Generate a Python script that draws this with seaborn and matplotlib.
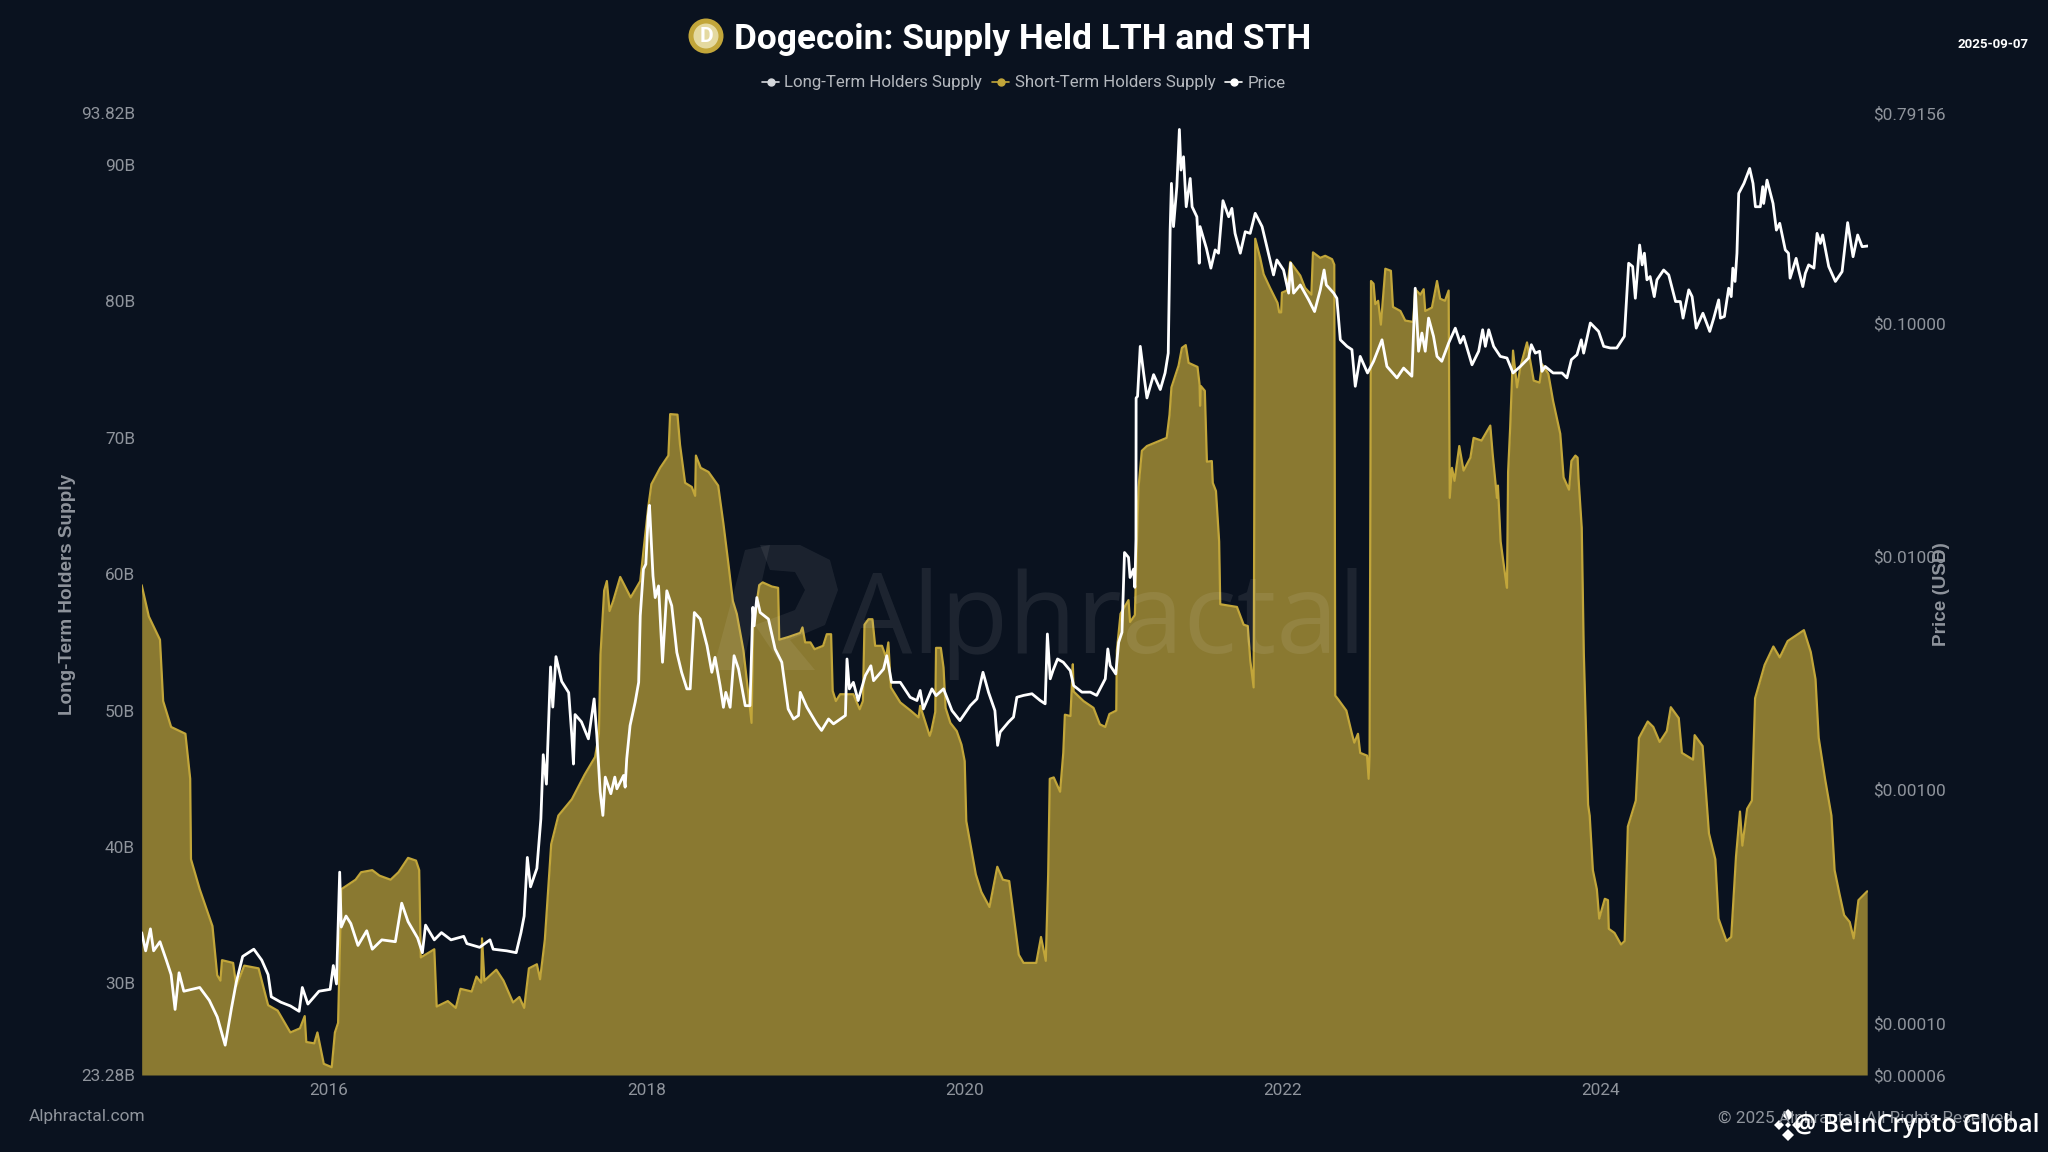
import numpy as np
import pandas as pd
import matplotlib
matplotlib.use('Agg')
import matplotlib.pyplot as plt
from matplotlib.lines import Line2D
from matplotlib.patches import Circle, Polygon
from matplotlib.transforms import IdentityTransform
import seaborn as sns

# Short-term holders supply (billions)
sth_year = [2014.825, 2014.87, 2014.94, 2014.96, 2015.01, 2015.10, 2015.13, 2015.135, 2015.19, 2015.27,
            2015.30, 2015.32, 2015.33, 2015.40, 2015.42, 2015.47, 2015.56, 2015.62, 2015.68, 2015.76,
            2015.82, 2015.85, 2015.86, 2015.91, 2015.93, 2015.97, 2016.02, 2016.04, 2016.06, 2016.08,
            2016.17, 2016.205, 2016.275, 2016.32, 2016.39, 2016.44, 2016.50, 2016.55, 2016.57, 2016.58,
            2016.665, 2016.68, 2016.75, 2016.80, 2016.83, 2016.90, 2016.93, 2016.96, 2016.965, 2016.98,
            2017.055, 2017.10, 2017.16, 2017.20, 2017.23, 2017.26, 2017.31, 2017.33, 2017.36, 2017.40,
            2017.445, 2017.53, 2017.61, 2017.676, 2017.70, 2017.71, 2017.733, 2017.75, 2017.767, 2017.79,
            2017.834, 2017.865, 2017.90, 2017.93, 2017.96, 2017.98, 2018.01, 2018.03, 2018.085, 2018.137,
            2018.148, 2018.194, 2018.21, 2018.242, 2018.284, 2018.305, 2018.31, 2018.34, 2018.389, 2018.45,
            2018.483, 2018.515, 2018.542, 2018.567, 2018.609, 2018.64, 2018.66, 2018.67, 2018.708, 2018.73,
            2018.787, 2018.827, 2018.834, 2018.892, 2018.966, 2018.98, 2018.997, 2019.03, 2019.056, 2019.11,
            2019.133, 2019.16, 2019.17, 2019.19, 2019.217, 2019.30, 2019.34, 2019.36, 2019.37, 2019.395,
            2019.42, 2019.437, 2019.48, 2019.506, 2019.52, 2019.536, 2019.595, 2019.66, 2019.71, 2019.72,
            2019.75, 2019.78, 2019.79, 2019.815, 2019.82, 2019.85, 2019.867, 2019.88, 2019.91, 2019.95,
            2019.98, 2020.0, 2020.01, 2020.07, 2020.105, 2020.156, 2020.205, 2020.24, 2020.28, 2020.31,
            2020.34, 2020.37, 2020.45, 2020.48, 2020.51, 2020.525, 2020.535, 2020.56, 2020.60, 2020.62,
            2020.63, 2020.665, 2020.68, 2020.685, 2020.747, 2020.81, 2020.85, 2020.884, 2020.91, 2020.953,
            2020.957, 2020.98, 2021.03, 2021.04, 2021.07, 2021.083, 2021.093, 2021.114, 2021.146, 2021.27,
            2021.288, 2021.30, 2021.345, 2021.366, 2021.39, 2021.408, 2021.464, 2021.477, 2021.48, 2021.485,
            2021.51, 2021.523, 2021.554, 2021.56, 2021.58, 2021.60, 2021.603, 2021.607, 2021.712, 2021.754,
            2021.78, 2021.796, 2021.817, 2021.827, 2021.858, 2021.88, 2021.92, 2021.967, 2021.978, 2021.99,
            2021.995, 2022.026, 2022.047, 2022.11, 2022.14, 2022.18, 2022.19, 2022.236, 2022.267, 2022.31,
            2022.324, 2022.33, 2022.35, 2022.40, 2022.435, 2022.45, 2022.473, 2022.487, 2022.53, 2022.54,
            2022.546, 2022.555, 2022.571, 2022.582, 2022.60, 2022.617, 2022.645, 2022.68, 2022.693, 2022.74,
            2022.77, 2022.82, 2022.833, 2022.865, 2022.886, 2022.896, 2022.938, 2022.97, 2022.99, 2023.02,
            2023.043, 2023.05, 2023.064, 2023.08, 2023.11, 2023.137, 2023.18, 2023.2, 2023.25, 2023.305,
            2023.32, 2023.347, 2023.353, 2023.37, 2023.40, 2023.41, 2023.417, 2023.43, 2023.448, 2023.473,
            2023.494, 2023.536, 2023.578, 2023.615, 2023.63, 2023.67, 2023.70, 2023.745, 2023.766, 2023.80,
            2023.815, 2023.84, 2023.854, 2023.86, 2023.88, 2023.885, 2023.893, 2023.92, 2023.93, 2023.95,
            2023.975, 2023.99, 2024.025, 2024.045, 2024.05, 2024.086, 2024.127, 2024.15, 2024.17, 2024.22,
            2024.24, 2024.295, 2024.33, 2024.37, 2024.415, 2024.44, 2024.49, 2024.51, 2024.58, 2024.59,
            2024.64, 2024.68, 2024.72, 2024.74, 2024.79, 2024.82, 2024.85, 2024.875, 2024.89, 2024.92,
            2024.95, 2024.97, 2025.03, 2025.085, 2025.125, 2025.175, 2025.277, 2025.32, 2025.35, 2025.37,
            2025.41, 2025.45, 2025.47, 2025.50, 2025.53, 2025.565, 2025.59, 2025.62, 2025.675]
sth_supply_b = [59.2, 56.9, 55.2, 50.7, 48.8, 48.3, 45.0, 39.1, 36.9, 34.2,
                30.6, 30.2, 31.7, 31.5, 29.8, 31.3, 31.1, 28.4, 28.0, 26.4,
                26.7, 27.6, 25.7, 25.6, 26.4, 24.1, 23.85, 26.4, 27.1, 36.9,
                37.6, 38.15, 38.3, 37.9, 37.6, 38.15, 39.2, 39.0, 38.3, 31.9,
                32.5, 28.3, 28.7, 28.2, 29.6, 29.4, 30.5, 30.05, 33.3, 30.2,
                31.0, 30.2, 28.6, 29.0, 28.2, 31.1, 31.4, 30.3, 33.2, 40.2,
                42.3, 43.5, 45.3, 46.6, 48.3, 54.1, 58.8, 59.5, 57.3, 58.05,
                59.8, 59.1, 58.3, 58.9, 59.5, 61.7, 64.9, 66.6, 67.8, 68.7,
                71.74, 71.7, 69.5, 66.7, 66.4, 65.75, 68.7, 67.8, 67.5, 66.5,
                63.7, 60.7, 58.05, 57.1, 54.4, 51.2, 49.1, 56.1, 59.2, 59.4,
                59.1, 59.0, 55.2, 55.4, 55.7, 56.1, 55.0, 55.0, 54.5, 54.75,
                55.6, 55.6, 51.45, 50.7, 51.2, 51.2, 50.1, 50.7, 56.3, 56.7,
                56.7, 54.75, 54.75, 53.9, 55.0, 51.7, 50.6, 50.0, 49.5, 50.35,
                49.25, 48.15, 48.5, 49.9, 54.6, 54.6, 53.15, 50.2, 49.1, 48.5,
                47.5, 46.3, 41.9, 38.0, 36.7, 35.6, 38.55, 37.6, 37.5, 34.8,
                32.1, 31.5, 31.5, 33.4, 31.65, 38.0, 45.0, 45.1, 44.05, 46.9,
                49.7, 49.6, 53.4, 51.4, 50.7, 50.2, 49.0, 48.8, 49.75, 50.0,
                54.4, 57.1, 58.1, 56.5, 57.0, 62.4, 66.35, 69.05, 69.4, 70.0,
                71.7, 73.7, 75.3, 76.6, 76.8, 75.5, 75.2, 73.9, 72.35, 73.8,
                73.45, 68.25, 68.3, 66.7, 66.1, 62.4, 60.5, 57.8, 57.6, 56.3,
                56.2, 53.65, 51.7, 84.6, 83.2, 82.0, 81.0, 79.9, 79.2, 79.2,
                80.65, 80.8, 82.9, 81.9, 81.0, 80.5, 83.6, 83.2, 83.35, 83.1,
                82.7, 51.1, 50.8, 50.0, 48.3, 47.65, 48.3, 46.9, 46.7, 45.0,
                46.8, 81.5, 81.3, 79.8, 80.05, 78.3, 82.4, 82.25, 79.6, 79.3,
                78.6, 78.5, 80.9, 80.5, 80.9, 79.3, 79.55, 81.5, 80.2, 80.05,
                80.8, 65.6, 67.8, 66.85, 69.4, 67.6, 68.55, 70.0, 69.8, 70.9,
                68.8, 65.6, 66.5, 62.4, 59.8, 59.0, 67.5, 70.76, 76.4, 73.7,
                75.2, 77.0, 74.2, 74.05, 75.4, 74.7, 72.7, 70.3, 67.1, 66.2,
                68.3, 68.7, 68.55, 67.0, 63.4, 59.8, 54.2, 43.1, 42.3, 38.3,
                36.9, 34.75, 36.2, 36.1, 34.0, 33.7, 32.85, 33.1, 41.5, 43.4,
                48.0, 49.2, 48.8, 47.7, 48.5, 50.25, 49.45, 46.9, 46.4, 48.2,
                47.4, 41.0, 39.1, 34.75, 33.1, 33.4, 39.3, 42.6, 40.1, 42.8,
                43.4, 50.9, 53.35, 54.7, 53.9, 55.1, 55.9, 54.3, 52.3, 48.0,
                45.0, 42.3, 38.3, 36.6, 35.0, 34.5, 33.3, 36.1, 36.75]

# Price, kept as log10(USD) because the axis is logarithmic
price_year = [2014.825, 2014.85, 2014.88, 2014.90, 2014.94, 2014.98, 2015.01, 2015.035, 2015.06, 2015.09,
              2015.19, 2015.25, 2015.30, 2015.35, 2015.39, 2015.42, 2015.46, 2015.53, 2015.58, 2015.62,
              2015.64, 2015.70, 2015.76, 2015.815, 2015.835, 2015.87, 2015.94, 2016.01, 2016.03, 2016.05,
              2016.07, 2016.08, 2016.11, 2016.14, 2016.185, 2016.24, 2016.275, 2016.335, 2016.42, 2016.46,
              2016.50, 2016.56, 2016.59, 2016.61, 2016.665, 2016.71, 2016.77, 2016.85, 2016.87, 2016.95,
              2017.015, 2017.035, 2017.12, 2017.18, 2017.21, 2017.23, 2017.25, 2017.27, 2017.31, 2017.335,
              2017.35, 2017.37, 2017.396, 2017.41, 2017.43, 2017.466, 2017.51, 2017.53, 2017.54, 2017.55,
              2017.59, 2017.634, 2017.67, 2017.687, 2017.708, 2017.725, 2017.74, 2017.775, 2017.80, 2017.813,
              2017.855, 2017.865, 2017.875, 2017.896, 2017.928, 2017.95, 2017.96, 2017.98, 2017.995, 2018.01,
              2018.018, 2018.04, 2018.054, 2018.075, 2018.10, 2018.127, 2018.158, 2018.19, 2018.22, 2018.253,
              2018.274, 2018.30, 2018.337, 2018.38, 2018.41, 2018.43, 2018.462, 2018.483, 2018.498, 2018.525,
              2018.55, 2018.578, 2018.62, 2018.65, 2018.668, 2018.676, 2018.693, 2018.714, 2018.766, 2018.808,
              2018.85, 2018.89, 2018.924, 2018.955, 2018.966, 2019.008, 2019.07, 2019.10, 2019.144, 2019.175,
              2019.25, 2019.26, 2019.275, 2019.30, 2019.33, 2019.375, 2019.41, 2019.427, 2019.49, 2019.51,
              2019.54, 2019.595, 2019.657, 2019.70, 2019.72, 2019.74, 2019.794, 2019.82, 2019.867, 2019.92,
              2019.97, 2020.035, 2020.077, 2020.115, 2020.15, 2020.19, 2020.207, 2020.223, 2020.276, 2020.307,
              2020.328, 2020.37, 2020.423, 2020.475, 2020.506, 2020.52, 2020.538, 2020.555, 2020.584, 2020.62,
              2020.664, 2020.685, 2020.737, 2020.79, 2020.83, 2020.884, 2020.90, 2020.915, 2020.95, 2020.968,
              2020.989, 2021.005, 2021.03, 2021.04, 2021.062, 2021.07, 2021.077, 2021.078, 2021.087, 2021.104,
              2021.125, 2021.146, 2021.188, 2021.23, 2021.26, 2021.28, 2021.292, 2021.30, 2021.313, 2021.334,
              2021.35, 2021.36, 2021.376, 2021.393, 2021.418, 2021.43, 2021.46, 2021.475, 2021.48, 2021.52,
              2021.548, 2021.575, 2021.596, 2021.624, 2021.66, 2021.68, 2021.70, 2021.733, 2021.764, 2021.795,
              2021.827, 2021.87, 2021.90, 2021.942, 2021.963, 2022.005, 2022.037, 2022.05, 2022.068, 2022.11,
              2022.163, 2022.20, 2022.236, 2022.26, 2022.274, 2022.32, 2022.34, 2022.362, 2022.404, 2022.435,
              2022.456, 2022.487, 2022.533, 2022.571, 2022.624, 2022.655, 2022.718, 2022.76, 2022.812, 2022.833,
              2022.854, 2022.875, 2022.896, 2022.917, 2022.948, 2022.97, 2023.0, 2023.043, 2023.085, 2023.116,
              2023.137, 2023.19, 2023.232, 2023.257, 2023.274, 2023.295, 2023.326, 2023.368, 2023.41, 2023.448,
              2023.494, 2023.546, 2023.563, 2023.588, 2023.615, 2023.63, 2023.65, 2023.70, 2023.756, 2023.787,
              2023.815, 2023.85, 2023.877, 2023.892, 2023.934, 2023.986, 2024.018, 2024.06, 2024.10, 2024.148,
              2024.165, 2024.175, 2024.20, 2024.217, 2024.244, 2024.26, 2024.274, 2024.29, 2024.31, 2024.336,
              2024.353, 2024.395, 2024.427, 2024.47, 2024.50, 2024.517, 2024.553, 2024.574, 2024.60, 2024.642,
              2024.685, 2024.71, 2024.741, 2024.752, 2024.777, 2024.804, 2024.82, 2024.83, 2024.844, 2024.856,
              2024.867, 2024.90, 2024.936, 2024.957, 2024.972, 2025.003, 2025.018, 2025.024, 2025.045, 2025.083,
              2025.104, 2025.125, 2025.16, 2025.18, 2025.19, 2025.228, 2025.244, 2025.27, 2025.286, 2025.307,
              2025.34, 2025.36, 2025.38, 2025.395, 2025.433, 2025.475, 2025.517, 2025.552, 2025.586, 2025.615,
              2025.643, 2025.68]
price_log10 = [-3.612, -3.690, -3.596, -3.690, -3.651, -3.730, -3.792, -3.941, -3.784, -3.863,
               -3.847, -3.902, -3.973, -4.094, -3.934, -3.824, -3.714, -3.683, -3.730, -3.792,
               -3.887, -3.910, -3.926, -3.949, -3.847, -3.918, -3.863, -3.855, -3.753, -3.832,
               -3.353, -3.588, -3.541, -3.573, -3.667, -3.604, -3.683, -3.643, -3.651, -3.486,
               -3.565, -3.635, -3.698, -3.580, -3.643, -3.612, -3.643, -3.628, -3.659, -3.675,
               -3.643, -3.683, -3.690, -3.698, -3.612, -3.541, -3.290, -3.416, -3.337, -3.125,
               -2.850, -2.976, -2.474, -2.646, -2.430, -2.536, -2.584, -2.772, -2.890, -2.678,
               -2.709, -2.782, -2.611, -2.768, -3.010, -3.110, -2.946, -3.017, -2.946, -2.996,
               -2.939, -2.989, -2.867, -2.725, -2.625, -2.540, -2.255, -2.055, -2.034, -1.828,
               -1.782, -2.084, -2.177, -2.127, -2.454, -2.148, -2.212, -2.412, -2.497, -2.568,
               -2.568, -2.241, -2.269, -2.383, -2.497, -2.433, -2.554, -2.647, -2.583, -2.647,
               -2.426, -2.483, -2.640, -2.640, -2.219, -2.298, -2.177, -2.241, -2.269, -2.397,
               -2.454, -2.654, -2.697, -2.682, -2.583, -2.647, -2.718, -2.746, -2.697, -2.718,
               -2.682, -2.440, -2.568, -2.540, -2.618, -2.511, -2.469, -2.533, -2.483, -2.426,
               -2.540, -2.540, -2.604, -2.618, -2.575, -2.654, -2.568, -2.597, -2.568, -2.661,
               -2.704, -2.640, -2.611, -2.497, -2.583, -2.661, -2.810, -2.753, -2.710, -2.689,
               -2.604, -2.596, -2.589, -2.618, -2.632, -2.333, -2.525, -2.490, -2.440, -2.454,
               -2.490, -2.554, -2.582, -2.582, -2.596, -2.525, -2.397, -2.468, -2.504, -2.369,
               -2.326, -1.984, -2.005, -2.091, -2.055, -2.133, -1.927, -1.322, -1.315, -1.101,
               -1.215, -1.322, -1.222, -1.286, -1.215, -1.130, -0.603, -0.403, -0.588, -0.417,
               -0.172, -0.346, -0.289, -0.503, -0.382, -0.503, -0.546, -0.745, -0.588, -0.681,
               -0.766, -0.688, -0.702, -0.477, -0.546, -0.510, -0.617, -0.702, -0.610, -0.617,
               -0.531, -0.588, -0.674, -0.795, -0.731, -0.774, -0.873, -0.745, -0.873, -0.838,
               -0.902, -0.952, -0.859, -0.774, -0.838, -0.873, -0.895, -1.073, -1.101, -1.115,
               -1.272, -1.144, -1.215, -1.165, -1.073, -1.187, -1.236, -1.194, -1.229, -0.852,
               -1.122, -1.044, -1.122, -0.980, -1.058, -1.144, -1.165, -1.087, -1.023, -1.087,
               -1.058, -1.180, -1.122, -1.030, -1.101, -1.030, -1.101, -1.144, -1.151, -1.215,
               -1.187, -1.151, -1.094, -1.130, -1.122, -1.208, -1.187, -1.215, -1.215, -1.236,
               -1.158, -1.137, -1.073, -1.130, -1.001, -1.037, -1.101, -1.108, -1.108, -1.058,
               -0.859, -0.745, -0.759, -0.895, -0.667, -0.752, -0.702, -0.816, -0.802, -0.888,
               -0.816, -0.774, -0.795, -0.909, -0.909, -0.980, -0.859, -0.888, -1.023, -0.959,
               -1.037, -0.980, -0.902, -0.980, -0.973, -0.852, -0.888, -0.766, -0.823, -0.702,
               -0.446, -0.403, -0.339, -0.403, -0.503, -0.503, -0.417, -0.489, -0.389, -0.489,
               -0.603, -0.574, -0.688, -0.702, -0.809, -0.724, -0.774, -0.845, -0.788, -0.752,
               -0.766, -0.617, -0.660, -0.624, -0.759, -0.823, -0.781, -0.571, -0.717, -0.624,
               -0.674, -0.671]

# Axis ticks and labels
supply_ticks = [23.28, 30, 40, 50, 60, 70, 80, 90, 93.82]
supply_labels = ['23.28B', '30B', '40B', '50B', '60B', '70B', '80B', '90B', '93.82B']
price_ticks = [0.00006, 0.0001, 0.001, 0.01, 0.1, 0.79156]
price_labels = ['$0.00006', '$0.00010', '$0.00100', '$0.01000', '$0.10000', '$0.79156']
year_ticks = [2016, 2018, 2020, 2022, 2024]

BG = '#0a121f'
GOLD = '#c2a63a'
GREY = '#8f949c'
W, H = 2048, 1152

sns.set_theme(style='dark', rc={'axes.facecolor': BG, 'figure.facecolor': BG})
plt.rcParams['font.family'] = ['Roboto', 'DejaVu Sans']

sth = pd.DataFrame({'year': sth_year, 'supply': sth_supply_b})
price = pd.DataFrame({'year': price_year, 'usd': 10.0 ** np.array(price_log10)})

fig = plt.figure(figsize=(W / 100, H / 100), dpi=100)
ax = fig.add_axes([142 / W, 1 - 1075 / H, (1868 - 142) / W, (1075 - 113) / H])

# Supply area on the left axis
sns.lineplot(data=sth, x='year', y='supply', ax=ax, color=GOLD, linewidth=1.6,
             estimator=None, sort=False, zorder=3)
ax.fill_between(sth['year'], sth['supply'], 23.28, color=GOLD, alpha=0.7, linewidth=0, zorder=2)
ax.set_xlim(2014.827, 2025.68)
ax.set_ylim(23.28, 93.82)
ax.set_xticks(year_ticks)
ax.set_xticklabels([str(y) for y in year_ticks])
ax.set_yticks(supply_ticks)
ax.set_yticklabels(supply_labels)
ax.set_xlabel('')
ax.set_ylabel('')
ax.tick_params(axis='both', length=0, labelsize=12.4, labelcolor=GREY)
ax.tick_params(axis='x', pad=6)
ax.tick_params(axis='y', pad=5)
ax.grid(False)

# Price on a log axis to the right
ax2 = ax.twinx()
sns.lineplot(data=price, x='year', y='usd', ax=ax2, color='white', linewidth=2.0,
             estimator=None, sort=False)
ax2.set_yscale('log')
ax2.set_ylim(0.00006, 0.79156)
ax2.set_yticks(price_ticks)
ax2.set_yticklabels(price_labels)
ax2.minorticks_off()
ax2.set_ylabel('')
ax2.tick_params(axis='y', length=0, labelsize=12.4, labelcolor=GREY, pad=4)
ax2.grid(False)
for a in (ax, ax2):
    for s in a.spines.values():
        s.set_visible(False)

# Titles and axis names
fig.text(1023 / W, 1 - 40 / H, 'Dogecoin: Supply Held LTH and STH', ha='center', va='center',
         color='white', fontsize=25.4, fontweight='bold')
fig.text(1993 / W, 1 - 45 / H, '2025-09-07', ha='center', va='center', color='white',
         fontsize=9.5, fontweight='bold')
fig.text(68 / W, 1 - 594 / H, 'Long-Term Holders Supply', rotation=90, ha='center', va='center',
         color=GREY, fontsize=13.6, fontweight='bold', family=['Liberation Sans'])
fig.text(1942 / W, 1 - 594 / H, 'Price (USD)', rotation=90, ha='center', va='center',
         color=GREY, fontsize=13.6, fontweight='bold', family=['Liberation Sans'])

# Legend
handles = [Line2D([], [], color='#d5d8dc', marker='o', markersize=5, linewidth=1.2),
           Line2D([], [], color=GOLD, marker='o', markersize=5, linewidth=1.2),
           Line2D([], [], color='white', marker='o', markersize=5, linewidth=1.2)]
fig.legend(handles, ['Long-Term Holders Supply', 'Short-Term Holders Supply', 'Price'],
           loc='center', bbox_to_anchor=(1024 / W, 1 - 83 / H), ncol=3, frameon=False,
           fontsize=12.2, labelcolor='#b4b8be', handlelength=1.0, handletextpad=0.3,
           columnspacing=0.6)

# Footer
fig.text(29 / W, 1 - 1117 / H, 'Alphractal.com', ha='left', va='center', color=GREY, fontsize=12.4)
fig.text(2013 / W, 1 - 1118 / H, '© 2025 Alphractal. All Rights Reserved', ha='right', va='center',
         color=GREY, fontsize=12.4)
fig.text(2040 / W, 1 - 1125 / H, '@ BeInCrypto Global', ha='right', va='center', color='white',
         fontsize=17.8, family=['Open Sans'], fontweight='semibold')


def px(x, y):
    return (x, H - y)


# Watermark
fig.text(842 / W, 1 - 653 / H, 'Alphractal', ha='left', va='baseline', color='white', alpha=0.08,
         fontsize=80, family=['Open Sans'])
logo = [[(713, 670), (745, 550), (770, 545), (742, 670)],
        [(760, 545), (800, 545), (830, 560), (838, 590), (825, 625), (790, 640), (815, 670),
         (785, 670), (755, 625), (795, 610), (805, 590), (795, 572), (770, 570)]]
for pts in logo:
    fig.add_artist(Polygon([px(*p) for p in pts], closed=True, facecolor='white', alpha=0.07,
                           edgecolor='none', transform=IdentityTransform()))

# Doge coin icon
fig.add_artist(Circle(px(706, 36), 17.5, facecolor='#c2a63a', edgecolor='none', transform=IdentityTransform()))
fig.add_artist(Circle(px(706, 36), 12.5, facecolor='#e4d9a0', edgecolor='none', transform=IdentityTransform()))
fig.text(706 / W, 1 - 36 / H, 'D', ha='center', va='center', color='white', fontsize=15, fontweight='bold')

# Diamond mark next to the overlay text
for dx, dy, r in [(0, -13, 6), (-9, -3, 5), (9, -3, 5), (0, 7, 6), (0, -3, 3)]:
    cx, cy = 1788 + dx, 1128 + dy
    fig.add_artist(Polygon([px(cx, cy - r), px(cx + r, cy), px(cx, cy + r), px(cx - r, cy)], closed=True,
                           facecolor='white', edgecolor='none', transform=IdentityTransform()))

plt.savefig('out.png', dpi=100, facecolor=BG)
